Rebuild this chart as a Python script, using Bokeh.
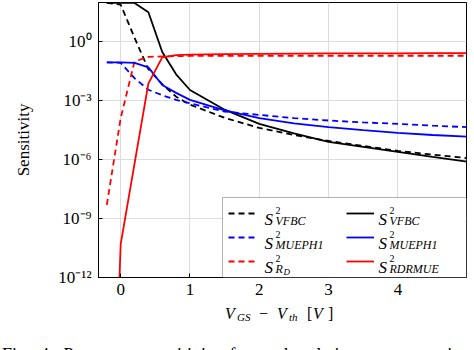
from bokeh.plotting import figure
from bokeh.models import Legend, LegendItem, Label, FixedTicker, Div, BoxAnnotation
from bokeh.layouts import column
from bokeh.embed import file_html
from bokeh.resources import INLINE

# ---- data ----
vgs = [-0.2, 0.0, 0.2, 0.4, 0.6, 0.8, 1.0, 1.5, 2.0, 2.5, 3.0, 3.5, 4.0, 4.5, 5.0]
s_vfbc_dash = [95, 78, 1.6, 0.04, 7.0e-3, 1.6e-3, 6.3e-4, 1.35e-4, 4.1e-5, 1.8e-5,
               8.9e-6, 5.0e-6, 2.8e-6, 1.8e-6, 1.2e-6]
s_vfbc_solid = [95, 95, 95, 32, 0.30, 0.022, 3.5e-3, 3.5e-4, 6.6e-5, 2.2e-5,
                8.1e-6, 4.5e-6, 2.5e-6, 1.4e-6, 7.9e-7]
s_mueph1_dash = [0.089, 0.085, 0.014, 3.6e-3, 1.9e-3, 1.1e-3, 7.4e-4, 2.8e-4, 1.9e-4,
                 1.3e-4, 9.8e-5, 7.9e-5, 6.6e-5, 5.4e-5, 4.5e-5]
s_mueph1_solid = [0.089, 0.089, 0.085, 0.05, 6.3e-3, 2.5e-3, 1.1e-3, 3.2e-4, 1.3e-4,
                  7.1e-5, 4.5e-5, 3.2e-5, 2.3e-5, 1.8e-5, 1.5e-5]
s_rd_dash = [5e-9, 1.3e-4, 0.10, 0.17, 0.18, 0.186, 0.19, 0.192, 0.194, 0.195,
             0.195, 0.195, 0.195, 0.195, 0.195]
s_rdrmue_solid = [1e-30, 5e-11, 6.3e-7, 7.6e-3, 0.16, 0.21, 0.22, 0.235, 0.245, 0.25,
                  0.255, 0.258, 0.26, 0.262, 0.263]

x_ticks = [0, 1, 2, 3, 4]
y_ticks = [1e-12, 1e-9, 1e-6, 1e-3, 1e0]
y_tick_labels = ["10\u207b\u00b9\u00b2", "10\u207b\u2079", "10\u207b\u2076", "10\u207b\u00b3", "10\u2070"]

SERIF = "Liberation Serif"

# frame geometry on the canvas
FL, FB = 98, 277

p = figure(width=474, height=305, x_range=(-0.32, 4.99), y_range=(1e-12, 1e2),
           y_axis_type="log", output_backend="svg", toolbar_location=None,
           min_border_left=FL, min_border_right=8, min_border_top=2, min_border_bottom=28)
p.outline_line_color = "black"
p.outline_line_width = 1
p.background_fill_color = "white"

p.xaxis.ticker = FixedTicker(ticks=x_ticks)
p.yaxis.ticker = FixedTicker(ticks=y_ticks)
p.yaxis.major_label_overrides = {t: l for t, l in zip(y_ticks, y_tick_labels)}
for ax in (p.xaxis, p.yaxis):
    ax.major_tick_in = 4
    ax.major_tick_out = 0
    ax.minor_tick_in = 0
    ax.minor_tick_out = 0
    ax.axis_line_color = "black"
    ax.major_tick_line_color = "black"
    ax.major_label_text_font = SERIF
    ax.major_label_text_font_size = "17px"
    ax.major_label_text_color = "black"
p.xaxis.major_label_standoff = 6
p.yaxis.major_label_standoff = 7
p.yaxis.axis_label = "Sensitivity"
p.yaxis.axis_label_text_font = SERIF
p.yaxis.axis_label_text_font_style = "normal"
p.yaxis.axis_label_text_color = "black"
p.yaxis.axis_label_text_font_size = "17px"
p.yaxis.axis_label_standoff = 22
p.grid.grid_line_color = "#dcdcdc"
p.grid.grid_line_width = 1
p.xgrid.ticker = FixedTicker(ticks=x_ticks)
p.ygrid.ticker = FixedTicker(ticks=y_ticks)

LW = 1.8
DASH = "6 4"
r1 = p.line(vgs, s_vfbc_dash, color="black", line_width=LW, line_dash=DASH)
r3 = p.line(vgs, s_mueph1_dash, color="blue", line_width=LW, line_dash=DASH)
r5 = p.line(vgs, s_rd_dash, color="red", line_width=LW, line_dash=DASH)
r2 = p.line(vgs, s_vfbc_solid, color="black", line_width=LW)
r4 = p.line(vgs, s_mueph1_solid, color="blue", line_width=LW)
r6 = p.line(vgs, s_rdrmue_solid, color="red", line_width=LW)

# legend panel (white box with black border) in the lower right corner of the frame
p.add_layout(BoxAnnotation(left=124, right=368, bottom=0, top=80,
                           left_units="screen", right_units="screen",
                           top_units="screen", bottom_units="screen",
                           fill_color="white", fill_alpha=1.0,
                           line_color="black", line_width=1, level="annotation"))

# column-major filling: first column dashed, second column solid
legend = Legend(items=[LegendItem(label=" ", renderers=[r]) for r in (r1, r3, r5, r2, r4, r6)],
                location=(124, 0), ncols=2, glyph_width=28, glyph_height=20,
                label_standoff=5, label_width=81, spacing=4, padding=6, margin=0,
                border_line_alpha=0, background_fill_alpha=0,
                label_text_font_size="1px")
p.add_layout(legend)


def put(text, cx, cy, size, italic=True):
    p.add_layout(Label(x=cx - FL, y=FB - cy, x_units="screen", y_units="screen",
                       text=text, text_font=SERIF, text_font_size=f"{size}px",
                       text_font_style="italic" if italic else "normal",
                       text_color="black", text_align="left",
                       text_baseline="alphabetic", level="overlay"))


def sens_label(sx, base, sub, subsub=None):
    put("S", sx, base, 17)
    put("2", sx + 11, base - 9.5, 10, italic=False)
    put(sub, sx + 11, base + 1.5, 12)
    if subsub:
        put(subsub, sx + 19, base + 4, 9)


rows = [219, 243, 267]
sens_label(264, rows[0], "VFBC")
sens_label(378, rows[0], "VFBC")
sens_label(264, rows[1], "MUEPH1")
sens_label(378, rows[1], "MUEPH1")
sens_label(264, rows[2], "R", "D")
sens_label(378, rows[2], "RDRMUE")


def piece(text, left, top, size, italic):
    style = "italic" if italic else "normal"
    return (f"<span style=\"position:absolute;left:{left}px;top:{top}px;font-size:{size}px;"
            f"line-height:{size}px;font-style:{style};white-space:nowrap;\">{text}</span>")


# x-axis label V_GS - V_th [V] and the (cut) caption below the figure
below = Div(width=474, height=45, margin=0, text=(
    "<div style=\"position:relative;width:474px;height:45px;overflow:hidden;"
    "font-family:'Liberation Serif',serif;color:black;\">"
    + piece("V", 225, 1, 16, True)
    + piece("GS", 237, 7, 11, True)
    + piece("\u2212", 259, 1, 16, False)
    + piece("V", 277, 1, 16, True)
    + piece("th", 289, 7, 11, True)
    + piece("[", 307, 1, 16, False)
    + piece("V", 313, 1, 16, True)
    + piece("]", 328, 1, 16, False)
    + "<div style=\"position:absolute;left:2px;top:41px;font-size:18px;line-height:18px;"
      "white-space:nowrap;word-spacing:5px;\">"
      "Fig. 4: Parameter sensitivity for each relative parameter in the</div>"
    + "</div>"))

layout = column(p, below, spacing=0)
open("out.html", "w").write(file_html(layout, INLINE))
